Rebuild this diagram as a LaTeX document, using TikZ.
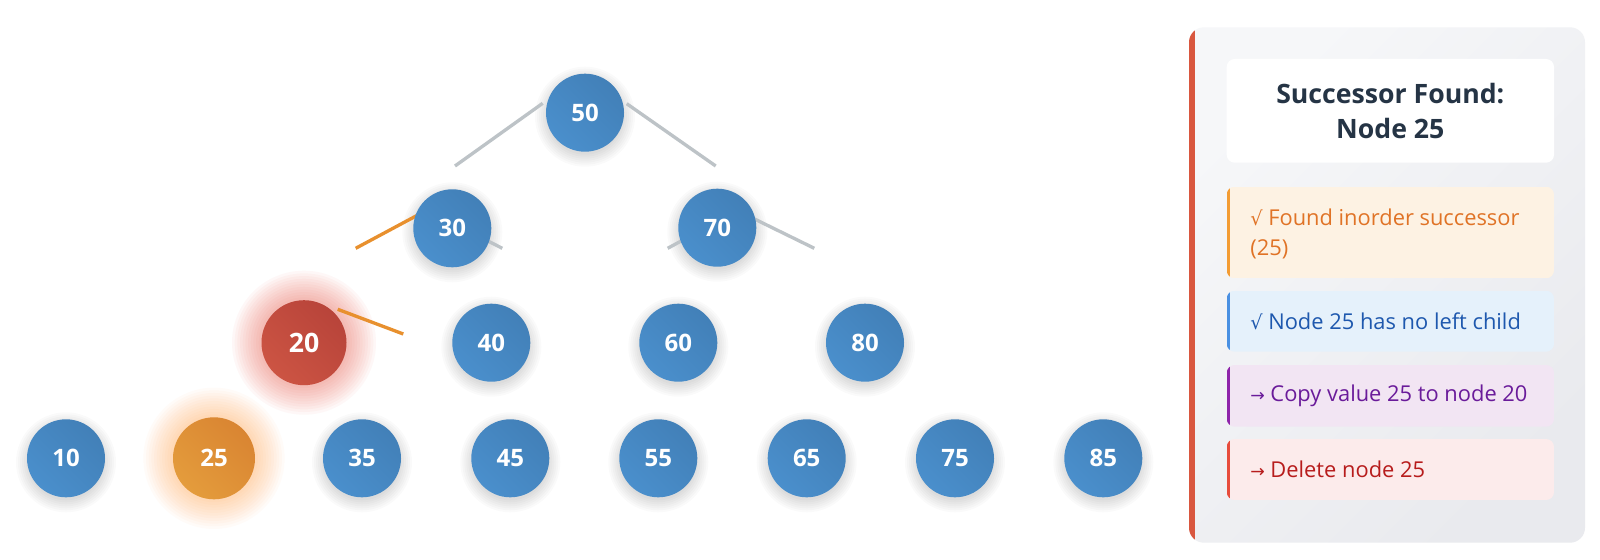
\documentclass[tikz,border=0pt]{standalone}
\usepackage{fontspec}
\setmainfont{Open Sans}
\newfontfamily\symfont{DejaVu Sans}
\definecolor{nodeLight}{HTML}{4A8FCC}
\definecolor{nodeDark}{HTML}{4280B8}
\definecolor{redLight}{HTML}{CC5443}
\definecolor{redDark}{HTML}{B8443A}
\definecolor{orLight}{HTML}{E49C3C}
\definecolor{orDark}{HTML}{D98532}
\definecolor{edgeGray}{HTML}{BDC3C7}
\definecolor{edgeOr}{HTML}{E8902E}
\definecolor{panelA}{HTML}{F6F7F9}
\definecolor{panelB}{HTML}{E9EAEE}
\definecolor{panelRed}{HTML}{D9573F}
\definecolor{titleCol}{HTML}{253445}
\definecolor{s1txt}{HTML}{E07326}
\definecolor{s1bg}{HTML}{FDF2E3}
\definecolor{s1bd}{HTML}{F39C34}
\definecolor{s2txt}{HTML}{1E58AE}
\definecolor{s2bg}{HTML}{E5F1FB}
\definecolor{s2bd}{HTML}{4A90E2}
\definecolor{s3txt}{HTML}{6A1B9A}
\definecolor{s3bg}{HTML}{F2E5F3}
\definecolor{s3bd}{HTML}{8E24AA}
\definecolor{s4txt}{HTML}{B71C1C}
\definecolor{s4bg}{HTML}{FCEBEB}
\definecolor{s4bd}{HTML}{E74C3C}
% soft halo: stacked discs  #1 x, #2 y (px), #3 inner radius (pt), #4 step (pt), #5 count, #6 colour, #7 opacity
\newcommand\mkhalo[7]{\foreach \k in {1,...,#5}{\fill[#6, fill opacity=#7] (#1,#2) circle ({#3pt+\k*#4pt});}}
% box with a coloured left border: #1 x0, #2 y0, #3 x1, #4 y1, #5 bg, #6 border, #7 border width (px), #8 radius
\newcommand\leftbordered[8]{%
  \begin{scope}
    \clip[rounded corners=#8] (#1,#2) rectangle (#3,#4);
    \fill[#5] (#1,#2) rectangle (#3,#4);
    \fill[#6] (#1,#2) rectangle ({#1+#7},#4);
  \end{scope}}
\tikzset{
  bst/.style={circle, inner sep=0pt, minimum size=58.5pt, text=white,
    font=\bfseries\fontsize{18}{20}\selectfont,
    bottom color=nodeLight, top color=nodeDark, shading angle=-45},
  hot/.style={bst, minimum size=63.75pt, bottom color=redLight, top color=redDark,
    shading angle=-45, font=\bfseries\fontsize{20}{22}\selectfont},
  succ/.style={bst, minimum size=61.5pt, bottom color=orLight, top color=orDark, shading angle=-45},
  grayedge/.style={draw=edgeGray, line width=2.5pt},
  oredge/.style={draw=edgeOr, line width=2.5pt},
  steptext/.style={anchor=west, inner sep=0pt, align=left, font=\fontsize{16.4}{22.5}\selectfont},
}
\begin{document}
\begin{tikzpicture}[x=0.75pt,y=-0.75pt]
\useasboundingbox (0,0) rectangle (1600,560);
\fill[white] (0,0) rectangle (1600,560);
% glows and shadows
\mkhalo{304}{342.7}{30}{2}{12}{s4bd}{0.04}
\mkhalo{214}{458.3}{29}{2}{12}{orange}{0.028}
\foreach \x/\y in {585/116.7,452.3/232.3,717.3/231.7,491.3/346.7,678.3/346.7,865/346.7,
  66/462.3,362/462.3,510.3/462.3,658.3/462.3,806.7/462.3,955/462.3,1103.3/462.3}{
  \mkhalo{\x}{\y}{27}{1.5}{7}{black}{0.018}
}
% free ends of connectors
\coordinate (e1a) at (542.7,103.3); \coordinate (e1b) at (455,166);
\coordinate (e2a) at (626.7,103.7); \coordinate (e2b) at (715.7,166);
\coordinate (e3a) at (430,208.5);   \coordinate (e3b) at (355.7,248.3);
\coordinate (e4a) at (442,217.7);   \coordinate (e4b) at (502.3,248.3);
\coordinate (e5a) at (705,228);     \coordinate (e5b) at (667.7,248.3);
\coordinate (e6a) at (730,207);     \coordinate (e6b) at (814.3,248.3);
\coordinate (e7a) at (337.7,309.3); \coordinate (e7b) at (403.3,334);
\draw[grayedge] (e1a) -- (e1b);
\draw[grayedge] (e2a) -- (e2b);
\draw[oredge] (e3a) -- (e3b);
\draw[grayedge] (e4a) -- (e4b);
\draw[grayedge] (e5a) -- (e5b);
\draw[grayedge] (e6a) -- (e6b);
\draw[oredge] (e7a) -- (e7b);
% tree nodes
\node[bst] (n50) at (585,112.7) {50};
\node[bst] (n30) at (452.3,228.3) {30};
\node[bst] (n70) at (717.3,227.7) {70};
\node[hot] (n20) at (304,342.7) {20};
\node[bst] (n40) at (491.3,342.7) {40};
\node[bst] (n60) at (678.3,342.7) {60};
\node[bst] (n80) at (865,342.7) {80};
\node[bst] (n10) at (66,458.3) {10};
\node[succ] (n25) at (214,458.3) {25};
\node[bst] (n35) at (362,458.3) {35};
\node[bst] (n45) at (510.3,458.3) {45};
\node[bst] (n55) at (658.3,458.3) {55};
\node[bst] (n65) at (806.7,458.3) {65};
\node[bst] (n75) at (955,458.3) {75};
\node[bst] (n85) at (1103.3,458.3) {85};
% panel
\mkhalo{1387}{287}{140}{1}{6}{black}{0.0}
\begin{scope}
  \clip[rounded corners=11.25pt] (1189,27.3) rectangle (1585,542.7);
  \shade[top color=panelA, bottom color=panelB, shading angle=45] (1189,27.3) rectangle (1585,542.7);
  \fill[panelRed] (1189,27.3) rectangle (1195,542.7);
\end{scope}
\fill[white, rounded corners=6pt] (1226.7,59) rectangle (1554,162.7);
\node[align=center, text=titleCol, font=\bfseries\fontsize{20}{26.25}\selectfont] (title)
  at (1390.3,111) {Successor Found:\\Node 25};
% step 1
\leftbordered{1226.7}{186.7}{1554}{278.3}{s1bg}{s1bd}{3}{6pt}
\node[steptext, text=s1txt] (st1) at (1250,233.5) {{\symfont\fontsize{14.5}{22.5}\selectfont √} Found inorder successor\\(25)};
% step 2
\leftbordered{1226.7}{290.7}{1554}{351.7}{s2bg}{s2bd}{3}{6pt}
\node[steptext, text=s2txt] (st2) at (1250,321.7) {{\symfont\fontsize{14.5}{22.5}\selectfont √} Node 25 has no left child};
% step 3
\leftbordered{1226.7}{365}{1554}{426.7}{s3bg}{s3bd}{3}{6pt}
\node[steptext, text=s3txt] (st3) at (1250,396.3) {{\symfont\fontsize{13}{22.5}\selectfont →} Copy value 25 to node 20};
% step 4
\leftbordered{1226.7}{439}{1554}{500}{s4bg}{s4bd}{3}{6pt}
\node[steptext, text=s4txt] (st4) at (1250,469.5) {{\symfont\fontsize{13}{22.5}\selectfont →} Delete node 25};
\end{tikzpicture}
\end{document}
